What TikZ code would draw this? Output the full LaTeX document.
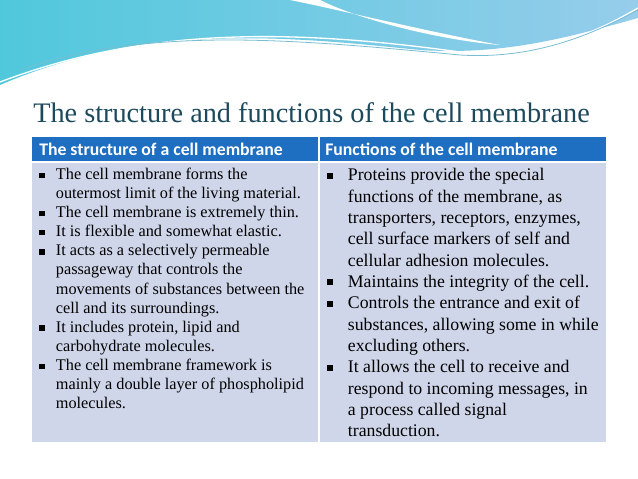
\documentclass[tikz,border=0pt]{standalone}
\usepackage{fontspec}
\setmainfont{Liberation Serif}
\newfontfamily\hdfont{Carlito}
\begin{document}
\begin{tikzpicture}[x=0.75pt,y=-0.75pt,
  hdr/.style={anchor=west,text=white,font=\hdfont\bfseries\fontsize{13.3}{15}\selectfont,inner sep=0},
  body/.style={anchor=north west,inner sep=0,align=left}]
\definecolor{hdblue}{HTML}{1E6EC2}
\definecolor{cellbg}{HTML}{D0D6EA}
\definecolor{titlec}{HTML}{1C4A5C}
\definecolor{waveA}{RGB}{80,200,220}
\definecolor{waveB}{RGB}{150,205,235}
\definecolor{waveL}{RGB}{120,190,210}
\useasboundingbox (0,0) rectangle (638,478);
\fill[white] (0,0) rectangle (638,478);
% wave decoration
\shade[left color=waveA,right color=waveB]
  (0,0) -- (638,0) -- (638,18) .. controls (560,40) and (500,55) .. (420,50)
  .. controls (300,38) and (150,20) .. (0,85) -- cycle;
\fill[white] (290,0) .. controls (340,10) and (420,30) .. (500,45) .. controls (440,40) and (360,20) .. (320,0) -- cycle;
\draw[white,line width=1pt] (0,82) .. controls (150,25) and (300,30) .. (460,52) .. controls (540,60) and (600,30) .. (638,8);
\draw[waveL,line width=0.6pt] (20,70) .. controls (150,25) and (300,40) .. (460,55) .. controls (540,60) and (600,30) .. (638,10);
% title
\node[anchor=base west,inner sep=0,text=titlec,font=\fontsize{21.2}{25}\selectfont] (title) at (33,122) {The structure and functions of the cell membrane};
% table
\fill[hdblue] (32,137) rectangle (606,161);
\fill[cellbg] (32,163) rectangle (606,442);
\draw[white,line width=1.5pt] (318.5,137) -- (318.5,442);
\node[hdr] (h1) at (39,149) {The structure of a cell membrane};
\node[hdr] (h2) at (325,149) {Functions of the cell membrane};
\node[body,font=\fontsize{12.2}{14.3}\selectfont] (left) at (39,166) {%
\begin{tabular}{@{}p{12.5pt}@{}l@{}}
\rule[1pt]{4pt}{4pt} & The cell membrane forms the\\
 & outermost limit of the living material.\\
\rule[1pt]{4pt}{4pt} & The cell membrane is extremely thin.\\
\rule[1pt]{4pt}{4pt} & It is flexible and somewhat elastic.\\
\rule[1pt]{4pt}{4pt} & It acts as a selectively permeable\\
 & passageway that controls the\\
 & movements of substances between the\\
 & cell and its surroundings.\\
\rule[1pt]{4pt}{4pt} & It includes protein, lipid and\\
 & carbohydrate molecules.\\
\rule[1pt]{4pt}{4pt} & The cell membrane framework is\\
 & mainly a double layer of phospholipid\\
 & molecules.
\end{tabular}};
\node[body,font=\fontsize{13.3}{16}\selectfont] (right) at (327,165.5) {%
\begin{tabular}{@{}p{15.5pt}@{}l@{}}
\rule[1.5pt]{4.5pt}{4.5pt} & Proteins provide the special\\
 & functions of the membrane, as\\
 & transporters, receptors, enzymes,\\
 & cell surface markers of self and\\
 & cellular adhesion molecules.\\
\rule[1.5pt]{4.5pt}{4.5pt} & Maintains the integrity of the cell.\\
\rule[1.5pt]{4.5pt}{4.5pt} & Controls the entrance and exit of\\
 & substances, allowing some in while\\
 & excluding others.\\
\rule[1.5pt]{4.5pt}{4.5pt} & It allows the cell to receive and\\
 & respond to incoming messages, in\\
 & a process called signal\\
 & transduction.
\end{tabular}};
\end{tikzpicture}
\end{document}
